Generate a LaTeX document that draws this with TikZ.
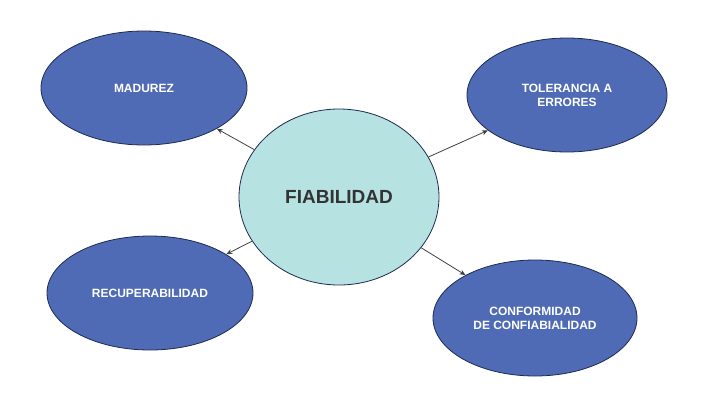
\documentclass[tikz,border=0pt]{standalone}
\usepackage{fontspec}
\setmainfont{Liberation Sans}
\usetikzlibrary{shapes.geometric,arrows.meta}
\definecolor{outerblue}{HTML}{4F6BB5}
\definecolor{centercyan}{HTML}{B6E2E2}
\definecolor{edgedark}{HTML}{1F2A50}
\begin{document}
\begin{tikzpicture}[x=1pt,y=-1pt,
  outer/.style={ellipse,draw=edgedark,line width=0.8pt,fill=outerblue,text=white,font=\bfseries\fontsize{12}{14}\selectfont,align=center,inner sep=0pt},
  conn/.style={-{Stealth[length=6pt,width=5pt]},draw=black!75,line width=0.8pt}]
\useasboundingbox (0,0) rectangle (712,405);
\node[ellipse,draw=edgedark,line width=0.8pt,fill=centercyan,minimum width=200pt,minimum height=176pt,inner sep=0pt,font=\bfseries\fontsize{19}{22}\selectfont,text=black!80] (c) at (339,197) {FIABILIDAD};
\node[outer,minimum width=206pt,minimum height=114pt] (m) at (144,88) {MADUREZ};
\node[outer,minimum width=200pt,minimum height=114pt] (t) at (567,95) {TOLERANCIA A\\ERRORES};
\node[outer,minimum width=206pt,minimum height=114pt] (r) at (150,293) {RECUPERABILIDAD};
\node[outer,minimum width=204pt,minimum height=116pt] (f) at (535,318) {CONFORMIDAD\\DE CONFIABIALIDAD};
\draw[conn] (c) -- (m);
\draw[conn] (c) -- (t);
\draw[conn] (c) -- (r);
\draw[conn] (c) -- (f);
\end{tikzpicture}
\end{document}
